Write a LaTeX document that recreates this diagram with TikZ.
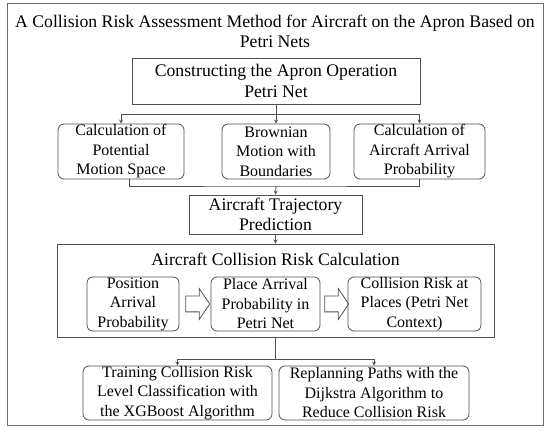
\documentclass[tikz,border=0pt]{standalone}
\usepackage{fontspec}
\setmainfont{Liberation Serif}
\usetikzlibrary{shapes.arrows}
\definecolor{linegray}{RGB}{80,80,80}
\definecolor{framegray}{RGB}{110,110,110}

\begin{document}
\begin{tikzpicture}[x=1pt, y=-1pt, line width=0.8pt, draw=linegray,
        plain/.style = {draw=linegray, text=black, rectangle, align=center, inner sep=0pt, font=\fontsize{17.7}{20.5}\selectfont},
        rounded/.style = {draw=linegray, text=black, rectangle, rounded corners=6pt, align=center, inner sep=0pt, font=\fontsize{16}{19.5}\selectfont},
        blockarrow/.style = {draw=linegray, single arrow, minimum height=24pt, inner xsep=0pt, inner ysep=7.5pt, single arrow head extend=7.5pt, single arrow tip angle=112}]
    \useasboundingbox (0,0) rectangle (550,433);
    \draw[framegray, line width=1pt] (7,4) rectangle (543,426);
    \node[align=center, inner sep=0pt, font=\fontsize{17.7}{20}\selectfont] (title) at (275,31) {A Collision Risk Assessment Method for Aircraft on the Apron Based on\\Petri Nets};
    \node[plain, minimum width=288pt, minimum height=46pt] (build) at (276,81) {Constructing the Apron Operation\\Petri Net};
    \node[rounded, minimum width=126pt, minimum height=55pt] (potential) at (121,151.5) {Calculation of\\Potential\\Motion Space};
    \node[rounded, minimum width=108pt, minimum height=55pt] (brownian) at (276,151.5) {Brownian\\Motion with\\Boundaries};
    \node[rounded, minimum width=131pt, minimum height=55pt] (arrival) at (419.5,151.5) {Calculation of\\Aircraft Arrival\\Probability};
    \node[plain, minimum width=173pt, minimum height=39pt] (traj) at (275.5,214.5) {Aircraft Trajectory\\Prediction};
    \node[plain, minimum width=437pt, minimum height=93pt] (riskbox) at (275.5,290.5) {};
    \node[font=\fontsize{17.7}{20.5}\selectfont, inner sep=0pt] (riskhead) at (275.5,259) {Aircraft Collision Risk Calculation};
    \node[rounded, minimum width=92pt, minimum height=54pt] (pos) at (133,304) {Position\\Arrival\\Probability};
    \node[rounded, minimum width=109pt, minimum height=54pt] (place) at (265.5,304) {Place Arrival\\Probability in\\Petri Net};
    \node[rounded, minimum width=133pt, minimum height=54pt] (atplace) at (414.5,304) {Collision Risk at\\Places (Petri Net\\Context)};
    \node[blockarrow] (blk1) at (195,304) {};
    \node[blockarrow] (blk2) at (334,304) {};
    \node[rounded, minimum width=189pt, minimum height=54pt] (train) at (177.5,393) {Training Collision Risk\\Level Classification with\\the XGBoost Algorithm};
    \node[rounded, minimum width=190pt, minimum height=54pt] (replan) at (374,393) {Replanning Paths with the\\Dijkstra Algorithm to\\Reduce Collision Risk};
    % splits and joins
    \coordinate (split) at (276,114);
    \coordinate (join) at (276,186);
    \coordinate (fork) at (275.5,359);
    \draw (build.south) -- (split);
    \draw[-stealth] (split) -| (potential.north);
    \draw[-stealth] (split) -- (brownian.north);
    \draw[-stealth] (split) -| (arrival.north);
    \draw ([xshift=8pt]potential.south) |- (join) -| (arrival.south);
    \draw[-stealth] (join) -- (traj.north);
    \draw[-stealth] (traj.south) -- (riskbox.north);
    \draw (riskbox.south) -- (fork);
    \draw[-stealth] (fork) -| (train.north);
    \draw[-stealth] (fork) -| (replan.north);
\end{tikzpicture}
\end{document}
